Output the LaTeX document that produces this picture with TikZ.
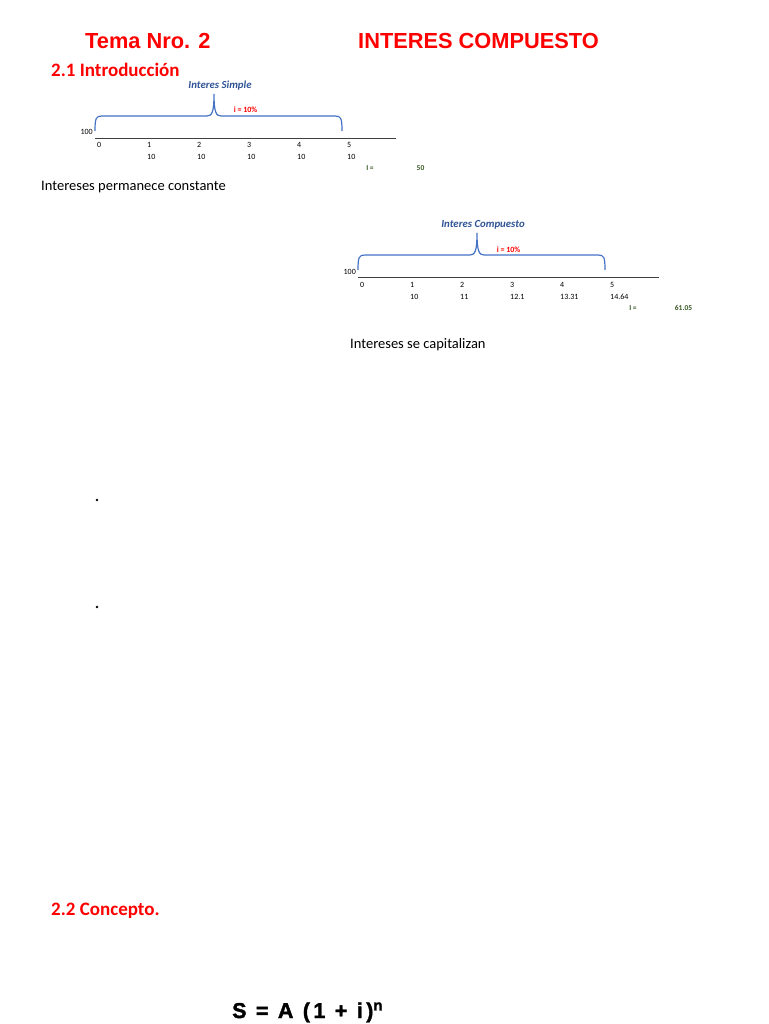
\documentclass[tikz,border=0pt]{standalone}
\usepackage{fontspec}
\setmainfont{Carlito}
\newfontfamily\arialfont{Liberation Sans}
\newfontfamily\formulafont[LetterSpace=16, FakeBold=1.6]{Liberation Sans}
\usetikzlibrary{positioning}
\definecolor{titlered}{RGB}{255,0,0}
\definecolor{bracebl}{RGB}{68,114,196}
\definecolor{labelbl}{RGB}{47,84,150}
\definecolor{sumgreen}{RGB}{56,87,35}

\begin{document}
\begin{tikzpicture}[x=1pt, y=-1pt,
        title/.style={anchor=base west, inner sep=0pt, text=titlered, font=\arialfont\fontsize{21.8}{24}\selectfont\bfseries},
        section/.style={anchor=base west, inner sep=0pt, text=titlered, font=\fontsize{19}{22}\selectfont\bfseries},
        body/.style={anchor=base west, inner sep=0pt, font=\fontsize{14.5}{17}\selectfont},
        tick/.style={anchor=base west, inner sep=0pt, font=\fontsize{8}{9}\selectfont},
        rate/.style={anchor=base, inner sep=0pt, text=titlered, font=\fontsize{8}{9}\selectfont\bfseries},
        kind/.style={anchor=base, inner sep=0pt, text=labelbl, font=\fontsize{10.8}{12}\selectfont\bfseries\itshape},
        total/.style={anchor=base, inner sep=0pt, text=sumgreen, font=\fontsize{7.5}{9}\selectfont\bfseries},
        axis/.style={line width=1.3pt, black!75},
        bracket/.style={line width=1.2pt, bracebl}]

    \useasboundingbox[fill=white] (0,0) rectangle (768,1024);

    % Headings
    \node[title] (tema) at (85,49) {Tema Nro. 2};
    \node[title] (tematitle) at (358,49) {INTERES COMPUESTO};
    \node[section] (intro) at (51,77) {2.1 Introducción};

    % Simple interest timeline
    \node[kind] (simple) at (220,89) {Interes Simple};
    \node[rate] (srate) at (245.5,113) {i = 10\%};
    \draw[bracket] (95,131) .. controls (95,118) and (96,116) .. (102,116) -- (207,116)
        .. controls (212,116) and (214,112) .. (214,94) .. controls (214,112) and (216,116) .. (221,116)
        -- (335,116) .. controls (341,116) and (342,118) .. (342,131);
    \node[tick, anchor=base east] (scap) at (93,135) {100};
    \coordinate (sa) at (95,138.5);
    \coordinate (sb) at (396,138.5);
    \draw[axis] (sa) -- (sb);
    \foreach \k in {0,...,5}
        \node[tick] (st\k) at (97+50*\k,148) {\k};
    \foreach \v [count=\k] in {10,10,10,10,10}
        \node[tick] (sv\k) at (97+50*\k,160) {\v};
    \node[total] (si) at (370,171) {I =};
    \node[total] (ssum) at (420.5,171) {50};
    \node[body] (snote) at (41,191) {Intereses permanece constante};

    % Compound interest timeline
    \begin{scope}[shift={(263,139)}]
        \node[kind] (comp) at (220,89) {Interes Compuesto};
        \node[rate] (crate) at (245.5,113) {i = 10\%};
        \draw[bracket] (95,131) .. controls (95,118) and (96,116) .. (102,116) -- (207,116)
            .. controls (212,116) and (214,112) .. (214,94) .. controls (214,112) and (216,116) .. (221,116)
            -- (335,116) .. controls (341,116) and (342,118) .. (342,131);
        \node[tick, anchor=base east] (ccap) at (93,135) {100};
        \coordinate (ca) at (95,138.5);
        \coordinate (cb) at (396,138.5);
        \draw[axis] (ca) -- (cb);
        \foreach \k in {0,...,5}
            \node[tick] (ct\k) at (97+50*\k,148) {\k};
        \foreach \v [count=\k] in {10,11,12.1,13.31,14.64}
            \node[tick] (cv\k) at (97+50*\k,160) {\v};
        \node[total] (ci) at (370,171) {I =};
        \node[total] (csum) at (420.5,171) {61.05};
    \end{scope}
    \node[body] (cnote) at (350,348) {Intereses se capitalizan};

    % Bullets
    \fill (97,500) circle (1.3);
    \fill (97,607) circle (1.3);

    % Concept
    \node[section] (concepto) at (51,915) {2.2 Concepto.};
    \node[anchor=base west, inner sep=0pt, font=\formulafont\fontsize{21.5}{26}\selectfont\bfseries] (formula) at (232,1018) {S = A (1 + i)\textsuperscript{n}};

\end{tikzpicture}
\end{document}
